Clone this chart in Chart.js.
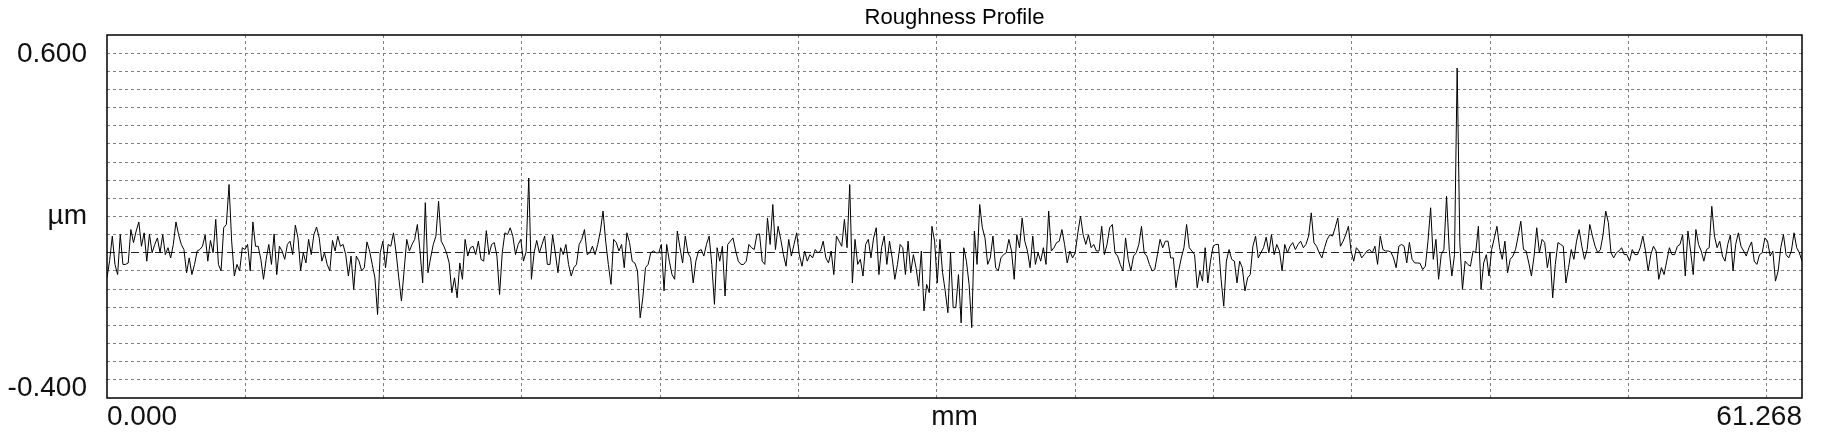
<!DOCTYPE html>
<html>
<head>
<meta charset="utf-8">
<script src="https://cdn.jsdelivr.net/npm/chart.js@4.4.1/dist/chart.umd.min.js"></script>
<style>
    html, body { margin: 0; padding: 0; background: #ffffff; }
    #contenedor { width: 1823px; height: 443px; }
</style>
</head>
<body>
<div id="contenedor"><canvas id="graficaPerfil" width="1823" height="443"></canvas></div>
<script>
const titulo = "Roughness Profile";
const xMax = 61.268;
const yMin = -0.4;
const yMax = 0.6;
const pasoGridX = 5;
const pasoGridY = 0.05;
const etiquetasY = ["0.600", "µm", "-0.400"];
const etiquetasX = ["0.000", "mm", "61.268"];

// perfil de rugosidad en µm, leido por tramos de izquierda a derecha
const tramo1 = [-0.069,-0.021,0.046,-0.032,-0.060,0.050,-0.032,-0.032,-0.028,0.064,
    0.028,0.060,0.085,0.018,0.055,-0.023,0.052,0,0.023,0.041,
    0,0.050,-0.005,0.014,-0.014,0.023,0.085,0.050,0.023,0.009,
    -0.055,-0.014,-0.060,-0.032,0.005,0.009,0.018,0.049,-0.023,0.034,
    0,0.092,-0.032,-0.050,0.069,0.078,0.188,0.032,-0.064,-0.032,
    -0.050,0.014,0.009,0.023,-0.050,0.085,0.018,0.018,-0.018,-0.073,
    -0.018,0.023,-0.032,0.052,-0.060,0.018,0.005,-0.018,0.023,0.032,
    -0.005,0.076,0.041,-0.049,0,-0.028,0.037,-0.005,0.050,0.071];
const tramo2 = [0.041,-0.023,0,-0.032,-0.050,0.034,0.005,0.046,0.018,0.023,
    -0.005,-0.064,-0.009,-0.101,-0.009,-0.023,-0.050,-0.041,0.030,0.005,
    -0.032,-0.069,-0.170,0,0.032,-0.041,0.023,0.018,0.055,0,
    -0.069,-0.133,-0.050,0.037,0.005,0.023,0.037,0.078,0.005,-0.083,
    0.138,-0.055,-0.014,0.023,0.046,0.142,0.032,0.018,0,-0.028,
    -0.110,-0.069,-0.124,-0.028,-0.073,0.037,-0.009,0.014,0.018,-0.005,
    0.032,-0.018,-0.023,0.061,-0.005,0.023,0.028,-0.009,-0.115,0,
    0.055,0.050,0.069,0.046,-0.005,0.023,0.037,-0.023,0.003,0.206];
const tramo3 = [-0.073,0,0.034,0,0.023,0.046,-0.032,-0.032,0.049,0,
    -0.055,0.014,-0.005,0.023,-0.032,-0.064,-0.041,-0.032,0.023,0.037,
    0.064,-0.005,0,0.018,-0.005,0.023,0.060,0.115,0.032,-0.032,
    -0.087,0.037,0.028,0.005,0.023,-0.041,0.055,0.028,-0.023,-0.028,
    -0.050,-0.179,-0.124,-0.041,-0.032,0,0.005,0,0,0.023,
    -0.105,0.023,-0.023,-0.060,-0.073,0.060,0.014,-0.028,0.046,0,
    -0.014,-0.083,-0.023,0.005,0.009,-0.009,0.023,0.046,-0.032,-0.142,
    0.014,-0.023,0.018,-0.119,0.023,0.032,0.041,0.005,-0.023,-0.032];
const tramo4 = [-0.032,-0.023,0.023,0.014,0.009,0.050,0.052,-0.023,-0.032,0.096,
    0.023,0.133,0.009,0.073,0.037,-0.005,-0.037,0.037,-0.009,0.023,
    0.055,-0.005,-0.037,0.005,-0.023,-0.005,-0.014,0.009,0,0.005,
    0.032,-0.014,-0.028,0.005,-0.060,0.046,0.032,0.018,0.092,0.014,
    0.188,-0.083,0.037,-0.032,-0.018,-0.064,0.023,0.037,-0.014,0.041,
    0.069,-0.060,0.014,0.046,-0.032,0.032,-0.014,-0.073,-0.032,0.023,
    0.014,-0.060,0.032,-0.055,-0.005,-0.041,-0.092,0.005,-0.160,-0.087,
    -0.110,0.073,0.032,-0.083,0.037,-0.055,-0.105,-0.165,0,-0.151];
const tramo5 = [-0.151,-0.060,-0.193,0.014,-0.023,-0.087,-0.206,0.060,-0.032,0.133,
    0.069,0.041,-0.032,-0.014,0.046,-0.041,-0.050,-0.014,-0.005,0,
    0.037,0.005,-0.073,0.050,0.014,0.096,0.032,0.005,-0.041,0.046,
    -0.032,0,-0.023,0.014,-0.032,0.115,0.005,0.014,0.028,0.032,
    0.064,0.023,-0.028,0.005,-0.014,0,0.055,0.101,0.050,0.023,
    0.050,0.014,0.023,0.005,0.005,0.073,-0.005,0.023,0.069,0.078,
    0,-0.009,-0.032,-0.050,0.041,-0.018,-0.050,-0.009,0,0.023,
    0.073,0,-0.009,-0.032,-0.050,-0.046,-0.005,0.037,0.014,0.032];
const tramo6 = [0.032,-0.014,-0.014,-0.096,-0.050,-0.014,0.014,0.078,0.014,0.005,
    -0.005,-0.096,-0.050,-0.078,0.014,-0.083,-0.023,0.018,0.023,0.023,
    -0.073,-0.147,-0.023,0.009,-0.018,-0.023,-0.083,-0.023,-0.041,-0.105,
    -0.069,-0.060,0.018,0.046,-0.014,0,0.014,0.043,0,0.050,
    -0.005,0.023,0.005,-0.050,0.023,0,0.018,0.028,0.009,0.023,
    0.032,0.014,0.023,0.046,0.110,0.028,0.018,0,-0.014,0.014,
    0.037,0.050,0.046,0.069,0.096,0.018,0.032,0.050,0.073,0.005,
    -0.023,0.014,0.005,-0.014,-0.005,0.005,0.009,0,0.018,-0.032];
const tramo7 = [0.046,0.009,0.005,0.005,0.002,-0.014,-0.041,0.018,0.023,0.018,
    -0.028,0.029,-0.018,-0.028,-0.028,-0.029,-0.046,-0.037,0.032,0.124,
    -0.018,0.037,-0.073,-0.005,0.009,0.156,0.009,-0.064,-0.005,0.509,
    0.028,-0.101,-0.023,-0.032,-0.037,0.005,0,0.073,-0.101,-0.028,
    -0.005,-0.064,0.009,0.041,0.073,0.014,-0.018,0.032,-0.055,-0.018,
    -0.009,0.009,0.046,0.087,0.009,0.005,-0.028,-0.064,-0.009,0.069,
    0,0.037,0.028,-0.041,0,-0.124,-0.032,0.028,0.023,0.018,
    -0.083,-0.041,0.009,-0.018,0.032,0.064,0.018,-0.018,0.009,0.078];
const tramo8 = [0.046,0.018,0,0.009,0.050,0.115,0.083,0,-0.014,0,
    0.005,0.014,-0.005,-0.005,-0.023,0.009,-0.005,-0.005,0.014,0.046,
    0.005,-0.050,-0.005,0.018,0.005,-0.073,-0.041,-0.060,-0.023,0.014,
    -0.005,-0.005,0.018,0.023,0.050,-0.064,0.060,0.005,-0.060,0.064,
    0.023,0.005,-0.023,0.009,0.014,0.128,0.046,0.014,0.032,-0.009,
    -0.023,0.023,0.049,-0.050,0.023,0.055,0.018,0.005,-0.009,0.014,
    0.030,-0.023,-0.032,-0.005,0,0.041,0.032,-0.009,0.005,-0.078,
    -0.050,0.014,0.050,-0.005,-0.014,0.005,0.055,0.014,0,-0.023];

const perfil = [...tramo1, ...tramo2, ...tramo3, ...tramo4, ...tramo5, ...tramo6, ...tramo7, ...tramo8];
const pasoX = xMax / (perfil.length - 1);
const puntos = perfil.map((v, i) => ({ x: i * pasoX, y: v }));

// ticks del eje x: lineas cada 5 mm mas el centro para la unidad
const mitadX = xMax / 2;
let ticksX = [0];
for (let v = pasoGridX; v < xMax; v += pasoGridX) ticksX.push(v);
ticksX.push(mitadX, xMax);
ticksX.sort((a, b) => a - b);

const fuente = '"Liberation Sans", Arial, sans-serif';

const marco = {
    id: 'marco',
    afterDraw(chart) {
        const ctx = chart.ctx;
        const a = chart.chartArea;
        ctx.save();
        ctx.strokeStyle = '#000000';
        ctx.lineWidth = 1.5;
        ctx.strokeRect(a.left, a.top, a.right - a.left, a.bottom - a.top);
        ctx.font = '28px ' + fuente;
        ctx.fillStyle = '#111111';
        ctx.textAlign = 'right';
        ctx.textBaseline = 'middle';
        const xt = a.left - 20;
        ctx.fillText(etiquetasY[0], xt, a.top + 19);
        ctx.fillText(etiquetasY[1], xt, (a.top + a.bottom) / 2);
        ctx.fillText(etiquetasY[2], xt, a.bottom - 10);
        ctx.restore();
    }
};

const ctx = document.getElementById('graficaPerfil').getContext('2d');

new Chart(ctx, {
    type: 'line',
    data: {
        datasets: [{
            label: titulo,
            data: puntos,
            borderColor: '#000000',
            borderWidth: 1,
            pointRadius: 0,
            fill: false,
            tension: 0
        }]
    },
    options: {
        responsive: false,
        animation: false,
        devicePixelRatio: 1,
        layout: { padding: { left: 0, right: 21, top: 0, bottom: 0 } },
        plugins: {
            legend: { display: false },
            tooltip: { enabled: false },
            title: {
                display: true,
                fullSize: false,
                text: titulo,
                color: '#000000',
                font: { family: fuente, size: 22, weight: 'normal' },
                padding: { top: 5, bottom: 3.6 }
            }
        },
        scales: {
            x: {
                type: 'linear',
                min: 0,
                max: xMax,
                afterBuildTicks: (scale) => {
                    scale.ticks = ticksX.map(v => ({ value: v }));
                },
                afterFit: (scale) => { scale.height = 45; },
                grid: {
                    drawTicks: false,
                    color: (c) => {
                        const v = c.tick ? c.tick.value : 0;
                        return (v === 0 || v === xMax || v === mitadX) ? 'rgba(0,0,0,0)' : '#808080';
                    }
                },
                border: { display: false, dash: [3, 3] },
                ticks: {
                    autoSkip: false,
                    maxRotation: 0,
                    align: 'inner',
                    padding: 2,
                    color: '#111111',
                    font: { family: fuente, size: 28 },
                    callback: (value) => {
                        if (value === 0) return etiquetasX[0];
                        if (value === mitadX) return etiquetasX[1];
                        if (value === xMax) return etiquetasX[2];
                        return '';
                    }
                }
            },
            y: {
                min: yMin,
                max: yMax,
                afterFit: (scale) => { scale.width = 107; },
                grid: {
                    drawTicks: false,
                    color: (c) => {
                        const v = c.tick ? Math.round(c.tick.value * 1000) : 0;
                        if (v === 0) return '#222222';
                        if (v === yMin * 1000 || v === yMax * 1000) return 'rgba(0,0,0,0)';
                        return '#808080';
                    }
                },
                border: {
                    display: false,
                    dash: (c) => (c.tick && Math.abs(c.tick.value) < 1e-9) ? [8, 4] : [3, 3]
                },
                ticks: {
                    stepSize: pasoGridY,
                    display: false
                }
            }
        }
    },
    plugins: [marco]
});
</script>
</body>
</html>
